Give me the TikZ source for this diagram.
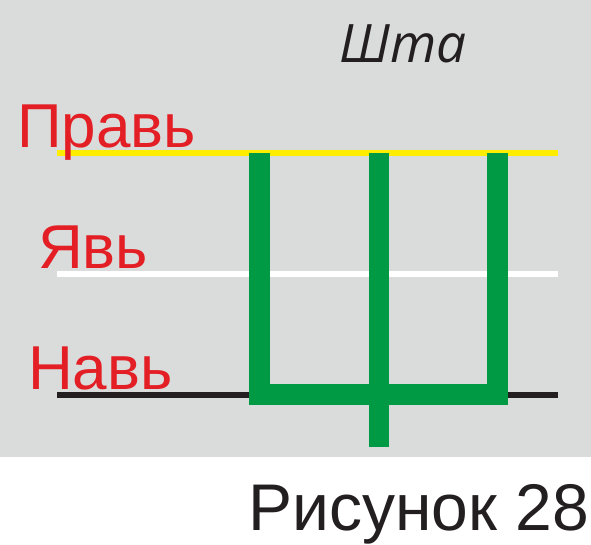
\documentclass[tikz,border=0pt]{standalone}
\usepackage{fontspec}
\setmainfont{Liberation Sans}
\newfontfamily\titlefont{Open Sans}
\definecolor{bggray}{RGB}{217,220,219}
\definecolor{myred}{RGB}{227,30,36}
\definecolor{mygreen}{RGB}{0,153,68}
\definecolor{myyellow}{RGB}{255,237,0}
\definecolor{myblack}{RGB}{35,31,32}
\definecolor{captxt}{RGB}{35,31,32}
\tikzset{
  lbl/.style={inner sep=0pt, anchor=base west, text=myred, font=\fontsize{62}{62}\selectfont},
  level/.style={line width=6pt},
  bar/.style={draw=mygreen, line width=21pt, line join=miter, line cap=butt},
}
\begin{document}
\begin{tikzpicture}[x=1pt,y=-1pt]
\useasboundingbox (0,0) rectangle (591,545);
\fill[bggray] (0,0) rectangle (591,457);
% level lines
\coordinate (y1) at (57,153); \coordinate (y2) at (558,153);
\coordinate (w1) at (57,274); \coordinate (w2) at (558,274);
\coordinate (b1) at (57,395); \coordinate (b2) at (558,395);
\draw[level, myyellow] (y1) -- (y2);
\draw[level, white] (w1) -- (w2);
\draw[level, myblack] (b1) -- (b2);
% green letter
\coordinate (lt) at (259.5,153); \coordinate (lb) at (259.5,394);
\coordinate (rb) at (497.5,394); \coordinate (rt) at (497.5,153);
\coordinate (mt) at (379,153); \coordinate (mb) at (379,447);
\draw[bar] (lt) -- (lb) -- (rb) -- (rt);
\draw[bar, line width=20pt] (mt) -- (mb);
% labels
\node[lbl] (prav) at (17,148) {Правь};
\node[lbl] (yav) at (38,268) {Явь};
\node[lbl] (nav) at (28,389) {Навь};
\node[inner sep=0pt, anchor=base, font=\titlefont\itshape\fontsize{53}{53}\selectfont, text=myblack] (shta) at (403,63) {Шта};
\node[inner sep=0pt, anchor=base west, font=\fontsize{66}{66}\selectfont, text=captxt] (cap) at (248,530) {Рисунок 28};
\end{tikzpicture}
\end{document}
